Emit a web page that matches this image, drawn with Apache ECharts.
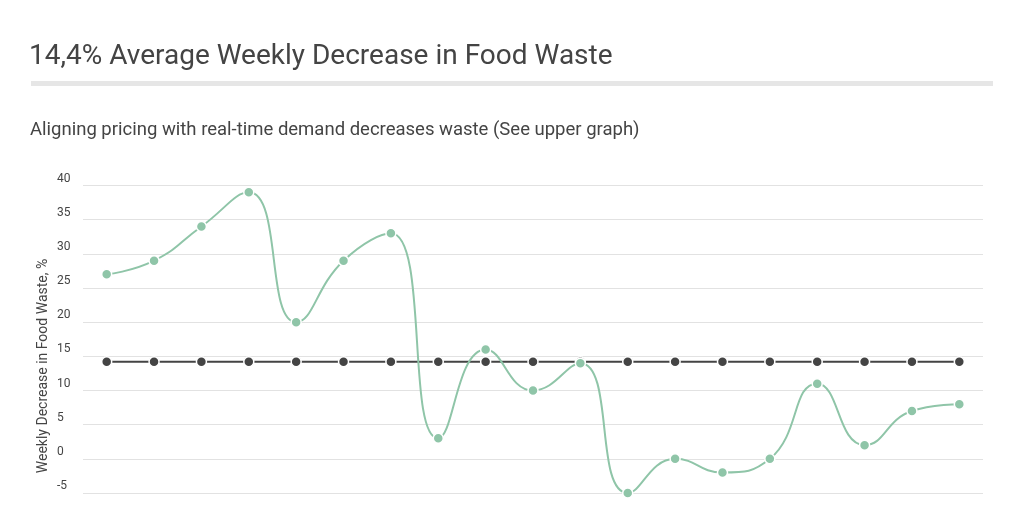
<!DOCTYPE html>
<html>
<head>
<meta charset="utf-8">
<script src="https://cdn.jsdelivr.net/npm/echarts@6/dist/echarts.min.js"></script>
<style>html,body{margin:0;padding:0;background:#fff}#c{width:1024px;height:512px}</style>
</head>
<body>
<div id="c"></div>
<script>
var titleText = '14,4% Average Weekly Decrease in Food Waste';
var subtitleText = 'Aligning pricing with real-time demand decreases waste (See upper graph)';
var axisName = 'Weekly Decrease in Food Waste, %';
var weeks = ['1','2','3','4','5','6','7','8','9','10','11','12','13','14','15','16','17','18','19'];
var weeklyDecrease = [27, 29, 34, 39, 20, 29, 33, 3, 16, 10, 14, -5, 0, -2, 0, 11, 2, 7, 8];
var averageDecrease = [14.2,14.2,14.2,14.2,14.2,14.2,14.2,14.2,14.2,14.2,14.2,14.2,14.2,14.2,14.2,14.2,14.2,14.2,14.2];
var yMin = -5, yMax = 40, yStep = 5;

var chart = echarts.init(document.getElementById('c'), null, {renderer: 'canvas'});
chart.setOption({
  animation: false,
  backgroundColor: '#fff',
  textStyle: {fontFamily: 'Roboto'},
  title: [
    {text: titleText, left: 29, top: 43, padding: 0, textStyle: {fontFamily: 'Roboto', fontSize: 28, fontWeight: 'normal', color: '#444'}},
    {text: subtitleText, left: 30, top: 121, padding: 0, textStyle: {fontFamily: 'Roboto', fontSize: 18.5, fontWeight: 'normal', color: '#444'}}
  ],
  graphic: [
    {type: 'rect', shape: {x: 31, y: 81, width: 962, height: 5}, style: {fill: '#e6e6e6'}, silent: true},
    {type: 'text', x: 43, y: 366, rotation: Math.PI / 2,
     style: {text: axisName, fill: '#444', font: '14px Roboto', align: 'center', verticalAlign: 'middle'}}
  ],
  grid: {left: 83, right: 41, top: 185.5, bottom: 19},
  xAxis: {
    type: 'category', data: weeks, boundaryGap: true,
    axisLine: {show: false}, axisTick: {show: false}, axisLabel: {show: false}
  },
  yAxis: {
    type: 'value', min: yMin, max: yMax, interval: yStep,
    axisLine: {show: false}, axisTick: {show: false},
    splitLine: {lineStyle: {color: '#e2e2e2', width: 1}},
    axisLabel: {color: '#444', fontSize: 12, fontFamily: 'Roboto', align: 'left', margin: 26, verticalAlign: 'bottom', padding: [0,0,1,0]}
  },
  series: [
    {
      type: 'line', data: averageDecrease, z: 2,
      symbol: 'circle', symbolSize: 10,
      lineStyle: {color: '#444', width: 2},
      itemStyle: {color: '#444', borderColor: '#fff', borderWidth: 1.5}
    },
    {
      type: 'line', data: weeklyDecrease, smooth: 0.5, z: 3,
      symbol: 'circle', symbolSize: 10,
      lineStyle: {color: '#8fc5a8', width: 2},
      itemStyle: {color: '#8fc5a8', borderColor: '#fff', borderWidth: 1.5}
    }
  ]
});
</script>
</body>
</html>
